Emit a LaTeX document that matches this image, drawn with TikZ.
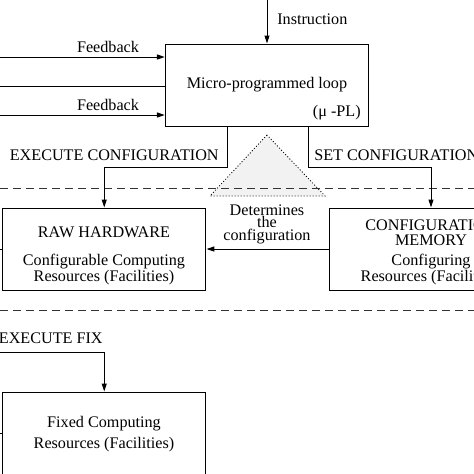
\documentclass[tikz,border=0pt]{standalone}
\usepackage{fontspec}
\setmainfont{Liberation Serif}
\usetikzlibrary{arrows.meta,positioning,calc}
\tikzset{
  boxln/.style={draw, line width=0.6pt, minimum width=122pt, minimum height=49.2pt, inner sep=0pt},
  flowln/.style={-{Triangle[length=4.8pt,width=3pt]}, line width=0.6pt},
  plainln/.style={line width=0.6pt},
  sepln/.style={dash pattern=on 4.8pt off 3pt, line width=0.6pt, black!80},
  dotln/.style={dash pattern=on 0.6pt off 1.2pt, line width=0.5pt},
  lbl/.style={font=\fontsize{9.7}{9.6}\selectfont, inner sep=0pt, align=center},
}

\begin{document}
\begin{tikzpicture}[x=0.6pt,y=-0.6pt]
  \useasboundingbox (0,0) rectangle (474,474);
  \clip (0,0) rectangle (474,474);
  % blocks
  \node[boxln] (loop) at (267,85) {};
  \node[boxln] (raw) at (104.25,249) {};
  \node[boxln] (mem) at (431,249) {};
  \node[boxln, minimum height=60pt] (fix) at (104.25,442) {};
  % texts in the blocks
  \node[lbl] (looptxt) at (267,85) {Micro-programmed loop};
  \node[lbl, anchor=east] (pl) at (361,113) {(μ -PL)};
  \node[lbl] (rawtxt) at (104,232) {RAW HARDWARE};
  \node[lbl] (rawsub) at (104,270) {Configurable Computing\\Resources (Facilities)};
  \node[lbl, font=\fontsize{9.7}{9}\selectfont] (memtxt) at (431,232.5) {CONFIGURATION\\MEMORY};
  \node[lbl] (memsub) at (431,270) {Configuring\\Resources (Facilities)};
  \node[lbl, font=\fontsize{9.7}{12.6}\selectfont] (fixtxt) at (104,434.5) {Fixed Computing\\Resources (Facilities)};
  % triangle and separators
  \draw[dotln, fill=gray!10] (267,135) -- (210,196) -- (325,196) -- cycle;
  \draw[sepln] (0,188) -- (474,188);
  \draw[sepln] (0,310) -- (474,310);
  % free ends
  \coordinate (instr) at (267,0);
  \coordinate (fb1) at (0,57);
  \coordinate (fb2) at (0,86);
  \coordinate (fb3) at (0,115);
  \coordinate (rawin) at (0,249);
  \coordinate (exfix) at (0,352);
  \coordinate (fixin) at (0,433);
  % connectors
  \draw[flowln] (instr) -- (loop.north);
  \draw[flowln] (fb1) -- (fb1 -| loop.west);
  \draw[plainln] (fb2) -- (fb2 -| loop.west);
  \draw[flowln] (fb3) -- (fb3 -| loop.west);
  \draw[flowln] ([xshift=-24pt]loop.south) -- ++(0,41) -| (raw.north);
  \draw[flowln] ([xshift=24.6pt]loop.south) -- ++(0,41) -| (mem.north);
  \draw[flowln] (mem.west) -- (raw.east);
  \draw[plainln] (rawin) -- (raw.west);
  \draw[flowln] (exfix) -| (fix.north);
  \draw[plainln] (fixin) -- (fixin -| fix.west);
  % labels
  \node[lbl, anchor=west] (instrtxt) at (277,19) {Instruction};
  \node[lbl] (fbtxt1) at (108,47) {Feedback};
  \node[lbl] (fbtxt3) at (108,105) {Feedback};
  \node[lbl, anchor=east] (extxt) at (219,155) {EXECUTE CONFIGURATION};
  \node[lbl, anchor=west] (settxt) at (314,155) {SET CONFIGURATION};
  \node[lbl, font=\fontsize{9.7}{7.5}\selectfont] (dettxt) at (267,224) {Determines\\the\\configuration};
  \node[lbl, anchor=east] (fixlbl) at (103,338) {EXECUTE FIX};
\end{tikzpicture}
\end{document}
